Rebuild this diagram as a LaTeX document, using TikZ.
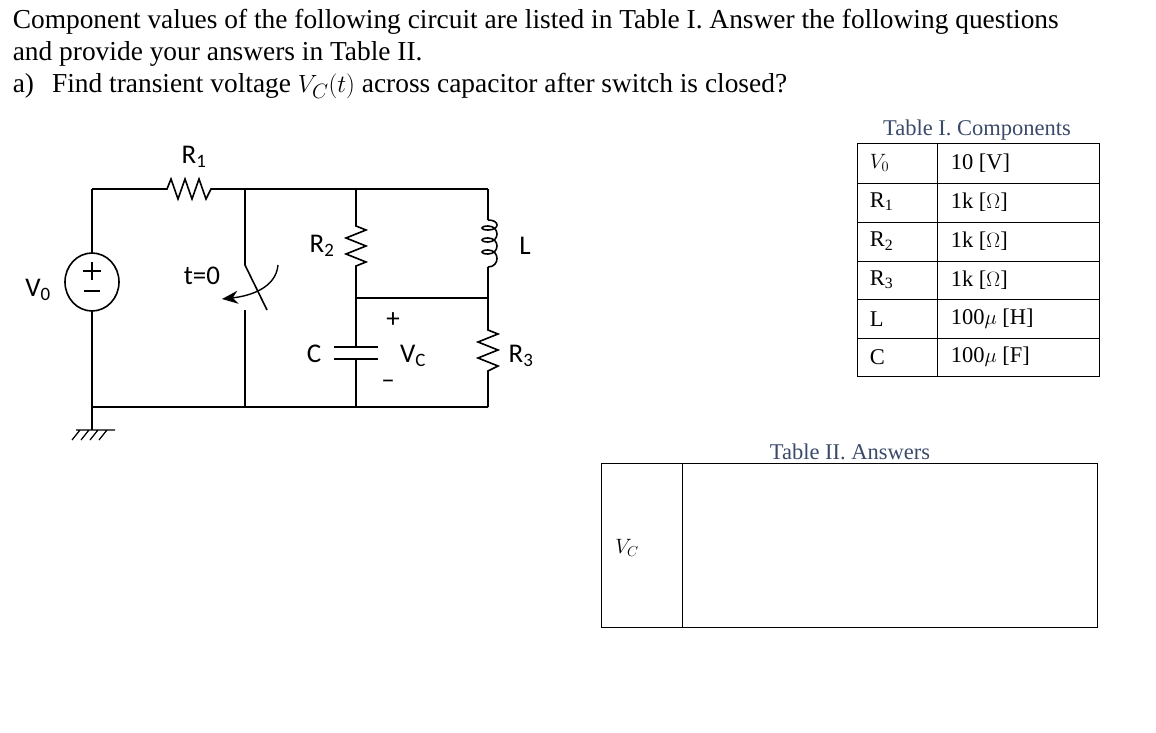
\documentclass[tikz,border=0pt]{standalone}
\usepackage{fontspec}
\setmainfont{Liberation Serif}
\newfontfamily\carlfont{Carlito}
\usetikzlibrary{arrows.meta,shapes.geometric}
\definecolor{ttl}{HTML}{3A4A6A}
\begin{document}
\begin{tikzpicture}[x=1pt,y=-1pt,line width=1.6pt,
  lbl/.style={font=\carlfont\fontsize{27}{27}\selectfont,inner sep=0pt},
  txt/.style={font=\fontsize{27.4}{27.4}\selectfont,inner sep=0pt,anchor=base west},
  tb/.style={font=\fontsize{22.5}{22.5}\selectfont,inner sep=0pt},
  tline/.style={line width=0.9pt}]
\useasboundingbox (0,0) rectangle (1156,733);
% text
\node[txt] (l1) at (12,29) {Component values of the following circuit are listed in Table I. Answer the following questions};
\node[txt] (l2) at (12,61) {and provide your answers in Table II.};
\node[txt] (l3) at (12,93) {a)\hspace{18pt}Find transient voltage $V_C(t)$ across capacitor after switch is closed?};
% coordinates
\coordinate (tl) at (92,189); \coordinate (bl) at (92,407);
\coordinate (ts) at (245,189); \coordinate (bs) at (245,407);
\coordinate (tm) at (356,189); \coordinate (mm) at (356,298); \coordinate (bm) at (356,407);
\coordinate (tr) at (488,189); \coordinate (mr) at (488,298); \coordinate (br) at (488,407);
% source
\draw (tl) -- (92,253);
\node[draw,ellipse,minimum width=54,minimum height=58,inner sep=0pt,line width=1.6pt] (src) at (92,282) {};
\draw (92,311) -- (bl);
\draw[line width=1.4pt] (92,262)--(92,280) (83,271)--(101,271) (84,291)--(100,291);
\node[lbl] (v0) at (38,290) {V\textsubscript{0}};
% R1
\draw (tl) -- (167,189) -- (171,179) -- (178,199) -- (185,179) -- (192,199) -- (199,179) -- (206,199) -- (211,189) -- (ts);
\node[lbl] (r1) at (194,157) {R\textsubscript{1}};
\draw (ts) -- (tm) -- (tr);
% switch
\draw (ts) -- (245,265) -- (267,310);
\draw (245,310) -- (bs);
\draw[-{Stealth[length=16pt,width=13pt]},line width=1.4pt] (278,265) .. controls (276,288) and (250,296) .. (222,299);
\node[lbl] (t0) at (202,276) {t=0};
% R2
\draw (tm) -- (356,226) -- (366,230) -- (346,238) -- (366,246) -- (346,254) -- (366,262) -- (356,266) -- (mm);
\node[lbl] (r2) at (322,246) {R\textsubscript{2}};
% L
\draw (tr) -- (488,220);
\draw (488,220) .. controls (500,220) and (500,230) .. (488,230) .. controls (480,230) and (480,226) .. (488,226)
  .. controls (500,226) and (500,242) .. (488,242) .. controls (480,242) and (480,238) .. (488,238)
  .. controls (500,238) and (500,254) .. (488,254) .. controls (480,254) and (480,250) .. (488,250)
  .. controls (500,250) and (500,267) .. (488,267);
\draw (488,267) -- (mr);
\node[lbl] (lL) at (525,246) {L};
\draw (mm) -- (mr);
% C
\draw (mm) -- (356,347) (356,359) -- (bm);
\draw (334,347) -- (378,347) (334,359) -- (378,359);
\node[lbl] (cC) at (314,354) {C};
\node[lbl] (pl) at (393,320) {+};
\node[lbl] (vc) at (413,356) {V\textsubscript{C}};
\node[lbl] (mi) at (388,384) {–};
% R3
\draw (mr) -- (488,330) -- (498,334) -- (478,342) -- (498,350) -- (478,358) -- (498,366) -- (488,371) -- (br);
\node[lbl] (r3) at (521,356) {R\textsubscript{3}};
% bottom and ground
\draw (bl) -- (bs) -- (bm) -- (br);
\draw (bl) -- (92,430);
\draw[line width=1.2pt] (76,430) -- (115,430) (80,430) -- (72,440) (89,430) -- (81,440) (98,430) -- (90,440) (107,430) -- (99,440);
% Table I
\node[tb,text=ttl] (t1) at (977,130) {Table I. Components};
\draw[tline] (857,143) rectangle (1099,376) (937,143) -- (937,376);
\foreach \y in {183,222,261,299,338} \draw[tline] (857,\y) -- (1099,\y);
\foreach \y/\a/\b [count=\i] in {163/$V_0$/10 [V],202/R\textsubscript{1}/1k [$\Omega$],241/R\textsubscript{2}/1k [$\Omega$],280/R\textsubscript{3}/1k [$\Omega$],319/L/100$\mu$ [H],357/C/100$\mu$ [F]}{
  \node[tb,anchor=west] (a\i) at (869,\y) {\a};
  \node[tb,anchor=west] (b\i) at (950,\y) {\b};}
% Table II
\node[tb,text=ttl] (t2) at (850,452) {Table II. Answers};
\draw[tline] (601,463) rectangle (1097,627) (682,463) -- (682,627);
\node[tb] (vca) at (627,548) {$V_C$};
\end{tikzpicture}
\end{document}
